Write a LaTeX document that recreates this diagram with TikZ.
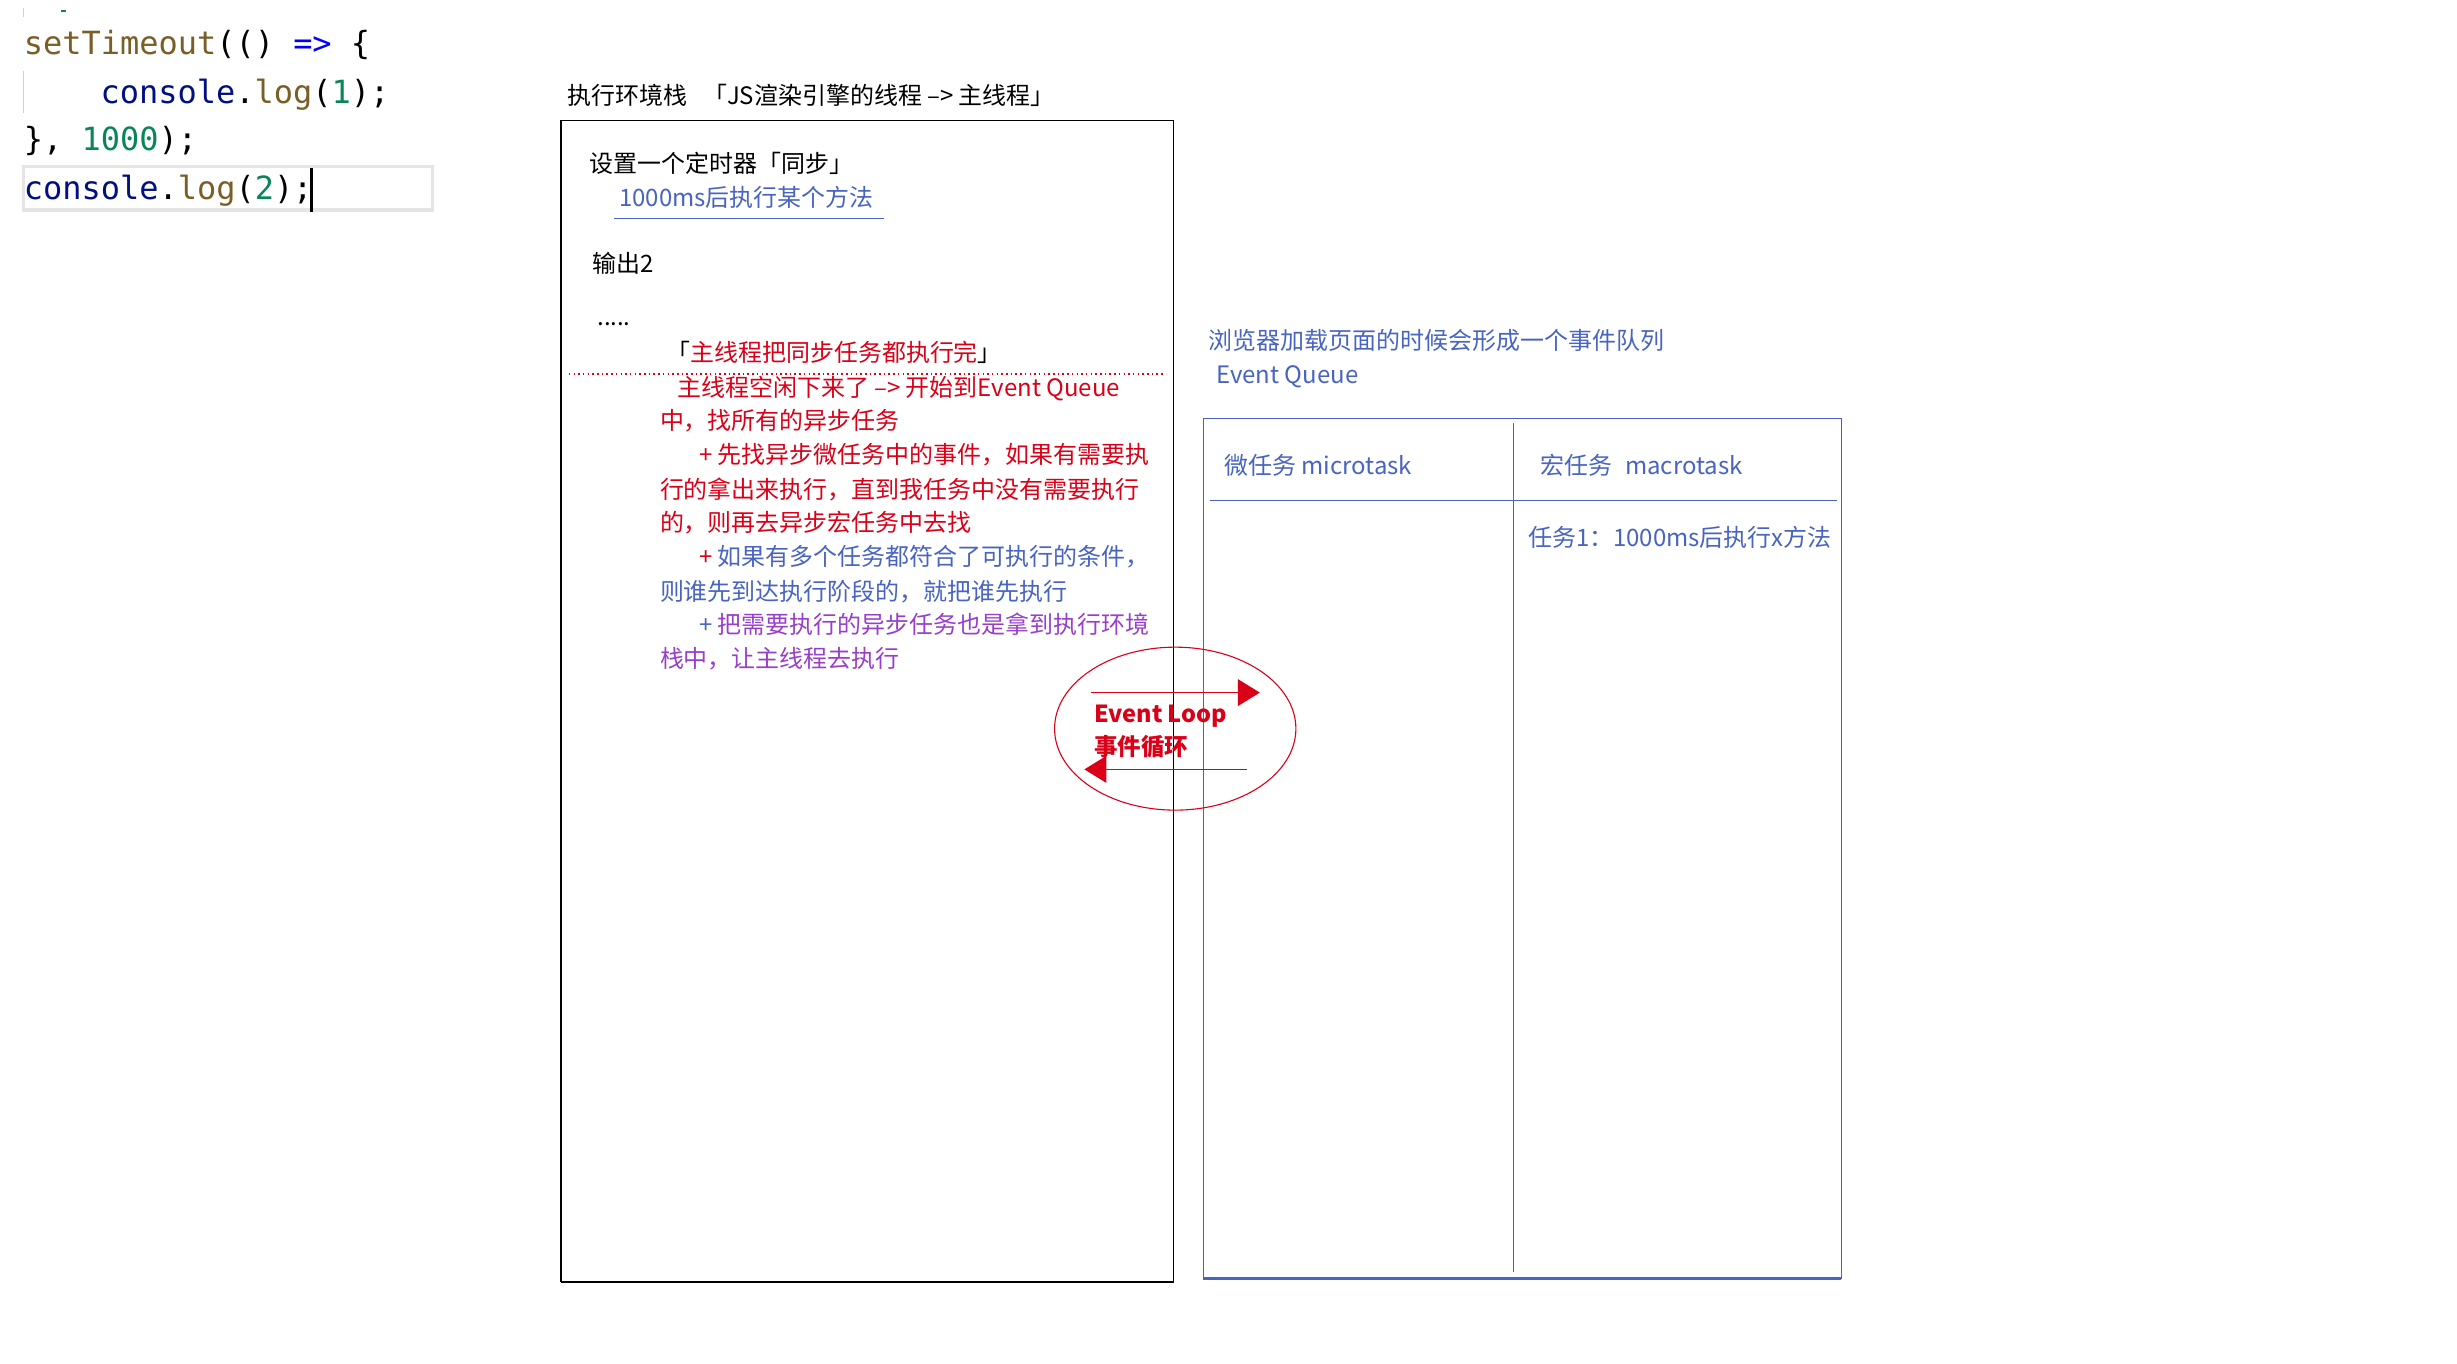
\documentclass[tikz,border=0pt]{standalone}
\usepackage{fontspec}
\setmainfont{Noto Sans CJK SC}
\setmonofont{DejaVu Sans Mono}
\usetikzlibrary{arrows.meta,shapes.geometric}
\definecolor{cRed}{RGB}{218,0,24}
\definecolor{cBlue}{RGB}{72,100,192}
\definecolor{cPurp}{RGB}{152,62,202}
\definecolor{cBrown}{RGB}{121,94,38}
\definecolor{cKw}{RGB}{0,0,255}
\definecolor{cNavy}{RGB}{0,16,128}
\definecolor{cNum}{RGB}{9,134,88}
\tikzset{
  txt/.style={anchor=base west, inner sep=0pt, font=\fontsize{15.3}{18}\selectfont},
  code/.style={anchor=base west, inner sep=0pt, font=\ttfamily\fontsize{20.4}{24}\selectfont},
  arr/.style={cRed, line width=0.8pt, -{Triangle[length=14pt,width=17pt]}},
}
\begin{document}
\begin{tikzpicture}[x=1pt,y=-1pt]
\useasboundingbox (0,0) rectangle (1568,870);
% code editor snippet
\draw[black!18, line width=0.8pt] (15,5) -- (15,11);
\draw[cNum, line width=0.8pt] (39,7) -- (42,7);
\draw[black!18, line width=1.2pt] (15,45) -- (15,72);
\draw[black!10, line width=2pt] (15,106) rectangle (276,134);
\node[code] (c1) at (15,35) {\textcolor{cBrown}{setTimeout}(() \textcolor{cKw}{=>} \{};
\node[code] (c2) at (64,66) {\textcolor{cNavy}{console}.\textcolor{cBrown}{log}(\textcolor{cNum}{1});};
\node[code] (c3) at (15,96) {\}, \textcolor{cNum}{1000});};
\node[code] (c4) at (15,127) {\textcolor{cNavy}{console}.\textcolor{cBrown}{log}(\textcolor{cNum}{2});};
\draw[black, line width=2pt] (199,107) -- (199,135);

% execution stack
\node[txt] (title) at (362,67) {执行环境栈\hspace{10pt}「JS渲染引擎的线程 –> 主线程」};
\draw[black, line width=0.8pt] (358,77) rectangle (749,818);
\draw[black, line width=1.6pt] (358,818) -- (749,818);
\node[txt] (s1) at (376,110) {设置一个定时器「同步」};
\node[txt, text=cBlue] (s2) at (395,132) {1000ms后执行某个方法};
\draw[cBlue, line width=0.8pt] (392,139.5) -- (564,139.5);
\node[txt] (s3) at (378,174) {输出2};
\node[txt] (s4) at (381,208) {.....};
\node[txt] (s5) at (425,231) {「\textcolor{cRed}{主线程把同步任务都执行完}」};
\draw[cRed, line width=1pt, dotted] (363,238.5) -- (744,238.5);
\node[txt, text=cRed] (r1) at (432,253) {主线程空闲下来了 –> 开始到Event Queue};
\node[txt, text=cRed] (r2) at (421,274) {中，找所有的异步任务};
\node[txt, text=cRed] (r3) at (446,296) {+ 先找异步微任务中的事件，如果有需要执};
\node[txt, text=cRed] (r4) at (421,318) {行的拿出来执行，直到我任务中没有需要执行};
\node[txt, text=cRed] (r5) at (421,339) {的，则再去异步宏任务中去找};
\node[txt] (b1) at (446,361) {\textcolor{cRed}{+} \textcolor{cBlue}{如果有多个任务都符合了可执行的条件，}};
\node[txt, text=cBlue] (b2) at (421,383) {则谁先到达执行阶段的，就把谁先执行};
\node[txt] (p1) at (446,404) {\textcolor{cBlue}{+} \textcolor{cPurp}{把需要执行的异步任务也是拿到执行环境}};
\node[txt, text=cPurp] (p2) at (421,426) {栈中，让主线程去执行};

% event queue
\node[txt, text=cBlue] (q1) at (771,223) {浏览器加载页面的时候会形成一个事件队列};
\node[txt, text=cBlue] (q2) at (776,245) {Event Queue};
\draw[cBlue, line width=0.8pt] (768,267) rectangle (1175,816);
\draw[cBlue, line width=1.6pt] (768,816) -- (1175,816);
\draw[cBlue, line width=0.6pt] (966,270) -- (966,812);
\draw[cBlue, line width=0.8pt] (772,319.5) -- (1172,319.5);
\node[txt, text=cBlue] (m1) at (781,303) {微任务 microtask};
\node[txt, text=cBlue] (m2) at (983,303) {宏任务\hspace{8pt}macrotask};
\node[txt, text=cBlue] (m3) at (975,349) {任务1：1000ms后执行x方法};

% event loop
\node[draw=cRed, line width=0.7pt, ellipse, minimum width=154pt, minimum height=104pt, inner sep=0pt] (loop) at (750,465) {};
\coordinate (a1s) at (696,442);
\coordinate (a1e) at (804,442);
\coordinate (a2s) at (796,491);
\coordinate (a2e) at (692,491);
\draw[arr] (a1s) -- (a1e);
\draw[arr] (a2s) -- (a2e);
\node[txt, text=cRed, font=\bfseries\fontsize{15}{18}\selectfont] (el1) at (698,461) {Event Loop};
\node[txt, text=cRed, font=\bfseries\fontsize{15}{18}\selectfont] (el2) at (698,482) {事件循环};
\end{tikzpicture}
\end{document}
